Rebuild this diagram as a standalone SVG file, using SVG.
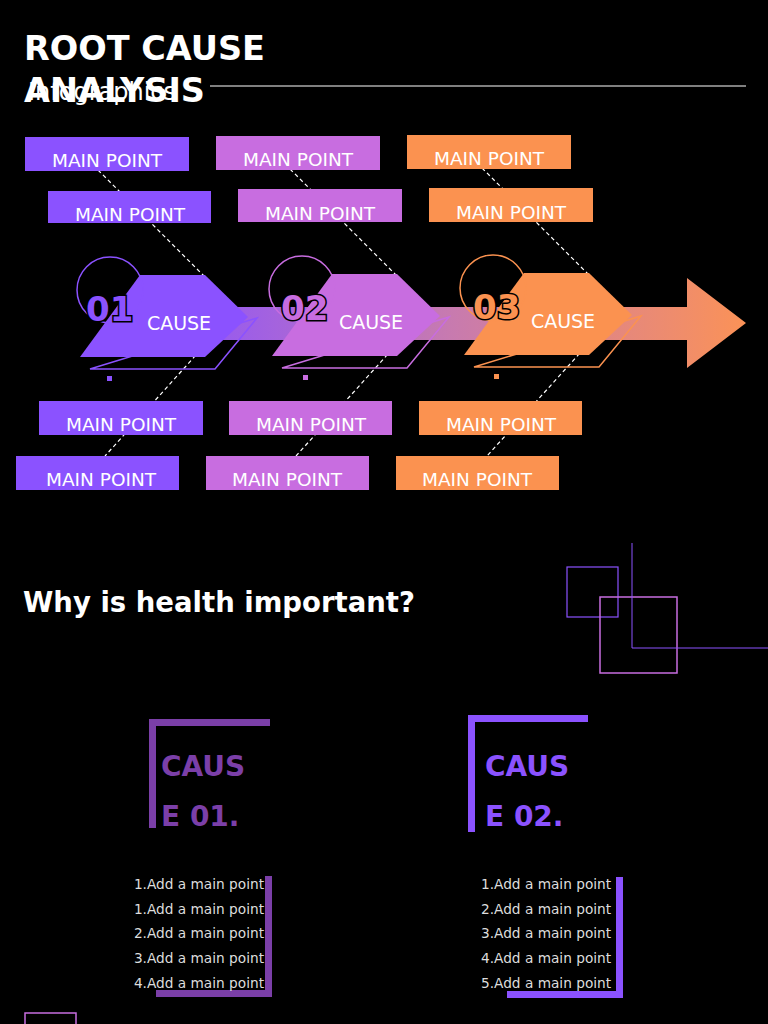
<svg xmlns="http://www.w3.org/2000/svg" width="768" height="1024" viewBox="0 0 768 1024">
<style>
text{font-family:"DejaVu Sans","Liberation Sans",sans-serif}
.mp{fill:#fff;font-size:18.5px;text-anchor:middle}
.dash{stroke:#fff;stroke-width:1.2;stroke-dasharray:4 3;fill:none}
.li{fill:#ddd;font-size:13.7px}
.num{font-size:34px;font-weight:bold;stroke:#000;stroke-width:3;paint-order:stroke}
.cause{fill:#fff;font-size:19px;text-anchor:middle}
</style>
<defs>
<linearGradient id="band" x1="150" y1="0" x2="746" y2="0" gradientUnits="userSpaceOnUse">
<stop offset="0" stop-color="#8b52ff"/><stop offset="0.5" stop-color="#c77ab0"/><stop offset="1" stop-color="#fb9257"/>
</linearGradient>
</defs>
<rect width="768" height="1024" fill="#000"/>
<g id="title">
<text x="24" y="60" fill="#fff" font-size="33.5" font-weight="bold">ROOT CAUSE</text>
<text x="28" y="100" fill="#fff" font-size="24">Infographics</text>
<text x="24" y="102" fill="#fff" font-size="33.5" font-weight="bold">ANALYSIS</text>
<line x1="210" y1="86" x2="746" y2="86" stroke="#fff" stroke-width="1"/>
</g>
<g id="band">
<polygon points="150,307 687,307 687,278 746,323 687,368 687,340 150,340" fill="url(#band)"/>
</g>
<g id="connectors">
<line class="dash" x1="98" y1="170" x2="210" y2="282"/>
<line class="dash" x1="205" y1="345" x2="105" y2="456"/>
<line class="dash" x1="290" y1="169" x2="402" y2="281"/>
<line class="dash" x1="397" y1="344" x2="296" y2="456"/>
<line class="dash" x1="482" y1="168" x2="594" y2="280"/>
<line class="dash" x1="589" y1="343" x2="487" y2="456"/>
</g>
<g id="cause1">
<polygon points="90,369 215,369 257,318" fill="none" stroke="#8b52ff" stroke-width="1.5"/>
<polygon points="80,357 140,275 205,275 248,317 205,357" fill="#8b52ff"/>
<circle cx="110" cy="290" r="33" fill="none" stroke="#8b52ff" stroke-width="1.5"/>
<text x="86" y="321" class="num" fill="#8b52ff">01</text>
<text x="179" y="330" class="cause">CAUSE</text>
<rect x="107" y="376" width="5" height="5" fill="#8b52ff"/>
</g>
<g id="cause2">
<polygon points="282,368 407,368 449,317" fill="none" stroke="#c86de0" stroke-width="1.5"/>
<polygon points="272,356 332,274 397,274 440,316 397,356" fill="#c86de0"/>
<circle cx="302" cy="289" r="33" fill="none" stroke="#c86de0" stroke-width="1.5"/>
<text x="281" y="320" class="num" fill="#c86de0">02</text>
<text x="371" y="329" class="cause">CAUSE</text>
<rect x="303" y="375" width="5" height="5" fill="#c86de0"/>
</g>
<g id="cause3">
<polygon points="474,367 599,367 641,316" fill="none" stroke="#fb9250" stroke-width="1.5"/>
<polygon points="464,355 524,273 589,273 632,315 589,355" fill="#fb9250"/>
<circle cx="493" cy="288" r="33" fill="none" stroke="#fb9250" stroke-width="1.5"/>
<text x="473" y="319" class="num" fill="#fb9250">03</text>
<text x="563" y="328" class="cause">CAUSE</text>
<rect x="494" y="374" width="5" height="5" fill="#fb9250"/>
</g>
<g id="points1" fill="#8b52ff">
<rect x="25" y="137" width="164" height="34"/><text x="107" y="167" class="mp">MAIN POINT</text>
<rect x="48" y="191" width="163" height="32"/><text x="130" y="221" class="mp">MAIN POINT</text>
<rect x="39" y="401" width="164" height="34"/><text x="121" y="431" class="mp">MAIN POINT</text>
<rect x="16" y="456" width="163" height="34"/><text x="101" y="486" class="mp">MAIN POINT</text>
</g>
<g id="points2" fill="#c86de0">
<rect x="216" y="136" width="164" height="34"/><text x="298" y="166" class="mp">MAIN POINT</text>
<rect x="238" y="189" width="164" height="33"/><text x="320" y="220" class="mp">MAIN POINT</text>
<rect x="229" y="401" width="163" height="34"/><text x="311" y="431" class="mp">MAIN POINT</text>
<rect x="206" y="456" width="163" height="34"/><text x="287" y="486" class="mp">MAIN POINT</text>
</g>
<g id="points3" fill="#fb9250">
<rect x="407" y="135" width="164" height="34"/><text x="489" y="165" class="mp">MAIN POINT</text>
<rect x="429" y="188" width="164" height="34"/><text x="511" y="219" class="mp">MAIN POINT</text>
<rect x="419" y="401" width="163" height="34"/><text x="501" y="431" class="mp">MAIN POINT</text>
<rect x="396" y="456" width="163" height="34"/><text x="477" y="486" class="mp">MAIN POINT</text>
</g>
<g id="subtitle">
<text x="23" y="612" fill="#fff" font-size="27.5" font-weight="bold">Why is health important?</text>
</g>
<g id="deco" fill="none">
<rect x="567" y="567" width="51" height="50" stroke="#8b52ff" stroke-width="1.2"/>
<rect x="600" y="597" width="77" height="76" stroke="#c86de0" stroke-width="1.5"/>
<polyline points="632,543 632,648 768,648" stroke="#8b52ff" stroke-width="1"/>
<rect x="25" y="1013" width="51" height="20" stroke="#c86de0" stroke-width="1.5"/>
</g>
<g id="card1">
<rect x="149" y="719" width="7" height="109" fill="#7b3fa8"/>
<rect x="149" y="719" width="121" height="7" fill="#7b3fa8"/>
<text x="161" y="776" fill="#7b3fa8" font-size="28" font-weight="bold">CAUS</text>
<text x="161" y="826" fill="#7b3fa8" font-size="28" font-weight="bold">E 01.</text>
<rect x="265" y="876" width="7" height="121" fill="#7b3fa8"/>
<rect x="156" y="990" width="116" height="7" fill="#7b3fa8"/>
<g text-anchor="end">
<text x="264" y="889" class="li">1.Add a main point</text>
<text x="264" y="914" class="li">1.Add a main point</text>
<text x="264" y="938" class="li">2.Add a main point</text>
<text x="264" y="963" class="li">3.Add a main point</text>
<text x="264" y="988" class="li">4.Add a main point</text>
</g>
</g>
<g id="card2">
<rect x="468" y="715" width="7" height="117" fill="#8b52ff"/>
<rect x="468" y="715" width="120" height="7" fill="#8b52ff"/>
<text x="485" y="776" fill="#8b52ff" font-size="28" font-weight="bold">CAUS</text>
<text x="485" y="826" fill="#8b52ff" font-size="28" font-weight="bold">E 02.</text>
<rect x="616" y="877" width="7" height="121" fill="#8b52ff"/>
<rect x="507" y="991" width="116" height="7" fill="#8b52ff"/>
<text x="481" y="889" class="li">1.Add a main point</text>
<text x="481" y="914" class="li">2.Add a main point</text>
<text x="481" y="938" class="li">3.Add a main point</text>
<text x="481" y="963" class="li">4.Add a main point</text>
<text x="481" y="988" class="li">5.Add a main point</text>
</g>
</svg>
